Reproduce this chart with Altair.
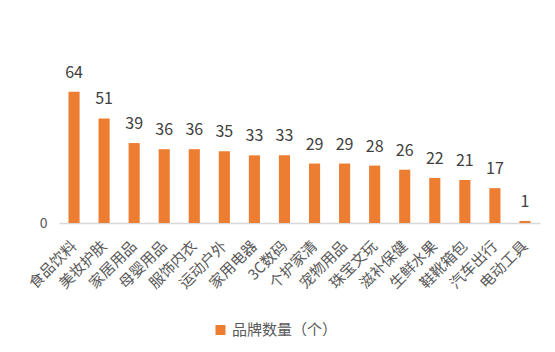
import altair as alt
import pandas as pd

categories = ["食品饮料", "美妆护肤", "家居用品", "母婴用品", "服饰内衣", "运动户外", "家用电器", "3C数码",
              "个护家清", "宠物用品", "珠宝文玩", "滋补保健", "生鲜水果", "鞋靴箱包", "汽车出行", "电动工具"]
values = [64, 51, 39, 36, 36, 35, 33, 33, 29, 29, 28, 26, 22, 21, 17, 1]
series_name = "品牌数量（个）"

df = pd.DataFrame({"cat": categories, "val": values, "series": [series_name] * len(values)})

FONT = "Noto Sans CJK SC"
W, H = 481, 143.5

base = alt.Chart(df).encode(
    x=alt.X("cat:N", sort=categories, title=None,
            scale=alt.Scale(paddingInner=0.63, paddingOuter=0.315),
            axis=alt.Axis(labelAngle=-45, labelFontSize=15, labelColor="#595959", labelFont=FONT,
                          ticks=False, domainColor="#d9d9d9", domainWidth=1.5, labelPadding=20,
                          labelAlign="right", labelBaseline="middle")),
    y=alt.Y("val:Q", title=None, scale=alt.Scale(domain=[0, 70]),
            axis=alt.Axis(values=[0], grid=False, ticks=False, domain=False, labelFontSize=14,
                          labelColor="#595959", labelFont=FONT, labelPadding=12)),
)

bars = base.mark_bar().encode(
    color=alt.Color("series:N", scale=alt.Scale(range=["#ED7D31"]), title=None,
                    legend=alt.Legend(orient="none", legendX=154, legendY=243, symbolType="square",
                                      symbolSize=100, labelFontSize=15, labelColor="#595959",
                                      labelFont=FONT, symbolStrokeWidth=0))
)

labels = base.mark_text(baseline="middle", dy=-19, fontSize=16, color="#404040", font=FONT).encode(
    text="val:Q"
)

chart = (bars + labels).properties(
    width=W, height=H,
    background="white",
    autosize=alt.AutoSizeParams(type="none"),
    padding={"left": 59, "top": 79.5, "right": 15, "bottom": 129},
).configure_view(stroke=None)

chart.save("out.html", embed_options={"renderer": "svg", "actions": False})
